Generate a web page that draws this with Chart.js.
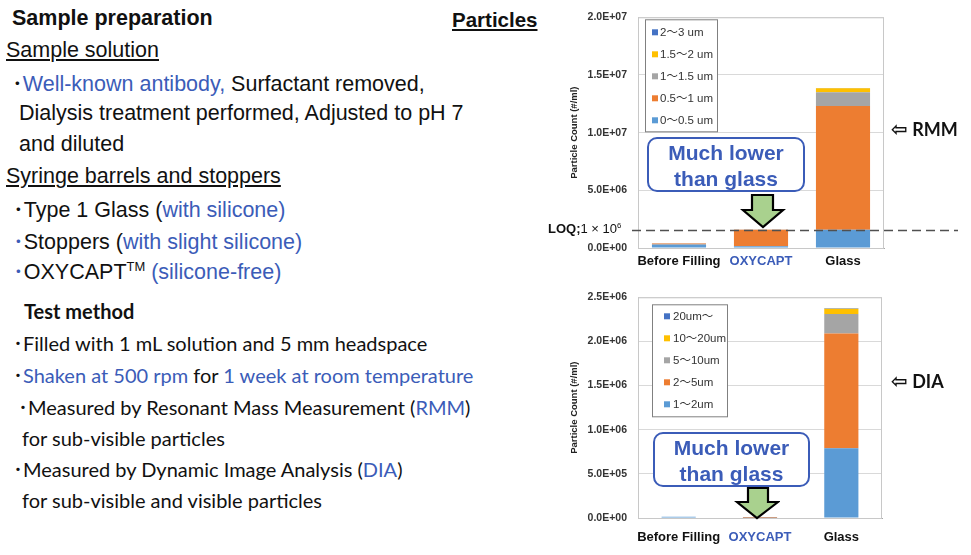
<!DOCTYPE html>
<html>
<head>
<meta charset="utf-8">
<script src="https://cdn.jsdelivr.net/npm/chart.js@4.4.0/dist/chart.umd.min.js"></script>
<style>
  body { margin: 0; background: #fff; }
  #page { position: relative; width: 971px; height: 555px; overflow: hidden; color: #111;
          font-family: "Liberation Sans", Arial, sans-serif; }
  .t { position: absolute; white-space: nowrap; font-size: 21.5px; line-height: 26px; }
  .c { font-family: Lato, "Open Sans", sans-serif; font-size: 20px; }
  .b { color: #3b5cb8; }
  .u { text-decoration: underline; text-underline-offset: 2px; }
  .dot { font-family: "Noto Sans CJK JP", sans-serif; }
  sup { font-size: 0.6em; line-height: 0; }
  .box { position: absolute; border: 2.5px solid #3b5cb8; border-radius: 10px; background: #fff;
         color: #3b5cb8; font-weight: bold; font-size: 21px; line-height: 26px; text-align: center;
         box-sizing: border-box; padding-top: 1px; }
  .wrap { position: absolute; }
  .side { position: absolute; font-family: Lato, sans-serif; font-weight: bold; font-size: 18px; white-space: nowrap; }
  .side span { font-family: "DejaVu Sans", sans-serif; font-weight: bold; font-size: 20px; }
</style>
</head>
<body>
<div id="page">
  <div class="t" style="left:12px;top:5px;font-weight:bold">Sample preparation</div>
  <div class="t u" style="left:452px;top:7px;font-weight:bold;font-size:20.5px">Particles</div>
  <div class="t u" style="left:6px;top:37px">Sample solution</div>
  <div class="t" style="left:12px;top:69px"><span class="dot">･</span><span class="b">Well-known antibody,</span> Surfactant removed,</div>
  <div class="t" style="left:19px;top:100px">Dialysis treatment performed, Adjusted to pH 7</div>
  <div class="t" style="left:19px;top:131px">and diluted</div>
  <div class="t u" style="left:6px;top:163px">Syringe barrels and stoppers</div>
  <div class="t" style="left:13px;top:195px"><span class="dot">･</span>Type 1 Glass (<span class="b">with silicone)</span></div>
  <div class="t" style="left:13px;top:227px"><span class="dot b">･</span>Stoppers (<span class="b">with slight silicone)</span></div>
  <div class="t" style="left:13px;top:257px"><span class="dot b">･</span>OXYCAPT<sup>TM</sup> <span class="b">(silicone-free)</span></div>

  <div class="t c" style="left:24px;top:298px;font-weight:bold">Test method</div>
  <div class="t c" style="left:13px;top:330px"><span class="dot">･</span>Filled with 1 mL solution and 5 mm headspace</div>
  <div class="t c" style="left:13px;top:362px"><span class="dot">･</span><span class="b">Shaken at 500 rpm</span> for <span class="b">1 week at room temperature</span></div>
  <div class="t c" style="left:18px;top:394px"><span class="dot">･</span>Measured by Resonant Mass Measurement (<span class="b">RMM</span>)</div>
  <div class="t c" style="left:22px;top:425px">for sub-visible particles</div>
  <div class="t c" style="left:13px;top:456px"><span class="dot">･</span>Measured by Dynamic Image Analysis (<span class="b">DIA</span>)</div>
  <div class="t c" style="left:22px;top:487px">for sub-visible and visible particles</div>

  <div class="wrap" style="left:560px;top:0;width:411px;height:275px"><canvas id="rmmChart"></canvas></div>
  <div class="wrap" style="left:560px;top:280px;width:411px;height:275px"><canvas id="diaChart"></canvas></div>

  <div class="t" style="left:548px;top:218px;font-size:13px;line-height:22px"><b>LOQ;</b>1 × 10<sup>6</sup></div>

  <div class="box" style="left:647px;top:137px;width:158px;height:55px">Much lower<br>than glass</div>
  <div class="box" style="left:653px;top:432px;width:157px;height:55px">Much lower<br>than glass</div>
  <svg style="position:absolute;left:740px;top:193px" width="46" height="38">
    <polygon points="12,2 33,2 33,17 43,17 23,34 3,17 12,17" fill="#a9d18e" stroke="#000" stroke-width="2.2" stroke-linejoin="miter"/>
  </svg>
  <svg style="position:absolute;left:734px;top:486px" width="46" height="36">
    <polygon points="14,2 34,2 34,16 44,16 23,32 3,16 14,16" fill="#a9d18e" stroke="#000" stroke-width="2.2" stroke-linejoin="miter"/>
  </svg>

  <div class="side" style="left:891px;top:117px"><span>⇦</span> RMM</div>
  <div class="side" style="left:891px;top:369px"><span>⇦</span> DIA</div>
</div>

<script>
// categories and size bins
const categories = ['Before Filling', 'OXYCAPT', 'Glass'];
const rmmLabels = ['0～0.5 um', '0.5～1 um', '1～1.5 um', '1.5～2 um', '2～3 um'];
const diaLabels = ['1～2um', '2～5um', '5～10um', '10～20um', '20um～'];
const binColors = ['#5b9bd5', '#ed7d31', '#a5a5a5', '#ffc000', '#4472c4'];

// RMM particle counts (#/ml), one array per size bin
const rmm0to05 = [300000, 150000, 1590000];
const rmm05to1 = [80000, 1440000, 10720000];
const rmm1to15 = [30000, 20000, 1190000];
const rmm15to2 = [10000, 0, 340000];
const rmm2to3 = [0, 0, 20000];

// DIA particle counts (#/ml)
const dia1to2 = [15000, 3000, 790000];
const dia2to5 = [0, 8000, 1300000];
const dia5to10 = [0, 0, 220000];
const dia10to20 = [0, 0, 60000];
const dia20up = [0, 0, 5000];

// tick values
const rmmTicks = [0, 5000000, 10000000, 15000000, 20000000];
const diaTicks = [0, 500000, 1000000, 1500000, 2000000, 2500000];
const loqLevel = 1590000;

function sci(v) {
  if (v === 0) return '0.0E+00';
  const e = Math.floor(Math.log10(v));
  const m = v / Math.pow(10, e);
  return m.toFixed(1) + 'E+' + String(e).padStart(2, '0');
}

const frame = {
  id: 'frame',
  beforeDatasetsDraw(chart) {
    const a = chart.chartArea, ctx = chart.ctx;
    ctx.save();
    ctx.strokeStyle = '#c8c8c8';
    ctx.lineWidth = 1;
    ctx.strokeRect(a.left + 0.5, a.top + 0.5, a.right - a.left - 1, a.bottom - a.top);
    ctx.restore();
  }
};

const boxLegend = {
  id: 'boxLegend',
  afterDatasetsDraw(chart, args, o) {
    if (!o.w) return;
    const ctx = chart.ctx, a = chart.chartArea;
    const x = a.left + o.x, y = a.top + o.y;
    ctx.save();
    ctx.fillStyle = '#fff';
    ctx.fillRect(x, y, o.w, o.h);
    ctx.strokeStyle = '#808080';
    ctx.lineWidth = 1;
    ctx.strokeRect(x + 0.5, y + 0.5, o.w, o.h);
    ctx.font = '11.5px "Liberation Sans", "Noto Sans CJK JP"';
    ctx.textBaseline = 'middle';
    const ds = chart.data.datasets.slice().reverse();
    ds.forEach(function (d, i) {
      const cy = y + o.first + i * o.step;
      ctx.fillStyle = d.backgroundColor;
      ctx.fillRect(x + o.mark, cy - 3, 6, 6);
      ctx.fillStyle = '#333';
      ctx.fillText(d.label, x + o.text, cy + 0.5);
    });
    ctx.restore();
  }
};

const loqLine = {
  id: 'loqLine',
  afterDatasetsDraw(chart, args, o) {
    if (o.value == null) return;
    const ctx = chart.ctx;
    const y = Math.round(chart.scales.y.getPixelForValue(o.value)) + 0.5;
    ctx.save();
    ctx.strokeStyle = '#505050';
    ctx.lineWidth = 1.5;
    ctx.setLineDash([9, 5]);
    ctx.beginPath();
    ctx.moveTo(72, y);
    ctx.lineTo(398, y);
    ctx.stroke();
    ctx.restore();
  }
};

function makeChart(id, labels, series, ticks, opts) {
  const datasets = series.map(function (s, i) {
    return {
      label: labels[i],
      data: s,
      backgroundColor: binColors[i],
      borderWidth: 0,
      categoryPercentage: 1,
      barPercentage: opts.bar
    };
  });
  return new Chart(document.getElementById(id), {
    type: 'bar',
    data: { labels: categories, datasets: datasets },
    options: {
      responsive: true,
      maintainAspectRatio: false,
      animation: false,
      layout: { padding: { top: opts.top, right: opts.right, left: 0, bottom: 0 } },
      plugins: {
        legend: { display: false },
        tooltip: { enabled: false },
        boxLegend: opts.legend,
        loqLine: { value: opts.loq }
      },
      scales: {
        x: {
          stacked: true,
          grid: { display: false },
          border: { color: '#a6a6a6' },
          afterFit: function (s) { s.height = opts.xh; },
          ticks: {
            padding: opts.xpad,
            autoSkip: false,
            maxRotation: 0,
            minRotation: 0,
            color: function (c) { return c.index === 1 ? '#3b5cb8' : '#111'; },
            font: { family: 'Liberation Sans', size: 13, weight: 'bold' }
          }
        },
        y: {
          stacked: true,
          min: 0,
          max: ticks[ticks.length - 1],
          afterBuildTicks: function (s) { s.ticks = ticks.map(function (v) { return { value: v }; }); },
          afterFit: function (s) { s.width = 78; },
          grid: { color: '#d9d9d9', drawTicks: false },
          border: { color: '#c8c8c8' },
          ticks: {
            padding: 11,
            color: '#333',
            font: { family: 'Liberation Sans', size: 10.5, weight: 'bold' },
            callback: function (v) { return sci(v); }
          },
          title: {
            display: true,
            text: 'Particle Count (#/ml)',
            color: '#222',
            font: { family: 'Liberation Sans', size: 9.5, weight: 'bold' },
            padding: { top: 9, bottom: 0 }
          }
        }
      }
    },
    plugins: [frame, boxLegend, loqLine]
  });
}

makeChart('rmmChart', rmmLabels, [rmm0to05, rmm05to1, rmm1to15, rmm15to2, rmm2to3], rmmTicks, {
  top: 13, right: 87, xh: 27, xpad: -2, bar: 0.66, loq: loqLevel,
  legend: { x: 7, y: 2, w: 72, h: 112, first: 13, step: 22, mark: 7, text: 15 }
});
makeChart('diaChart', diaLabels, [dia1to2, dia2to5, dia5to10, dia10to20, dia20up], diaTicks, {
  top: 6, right: 89, xh: 37, xpad: 4, bar: 0.42, loq: null,
  legend: { x: 14, y: 7, w: 75, h: 112, first: 12, step: 22, mark: 12, text: 21 }
});
</script>
</body>
</html>
